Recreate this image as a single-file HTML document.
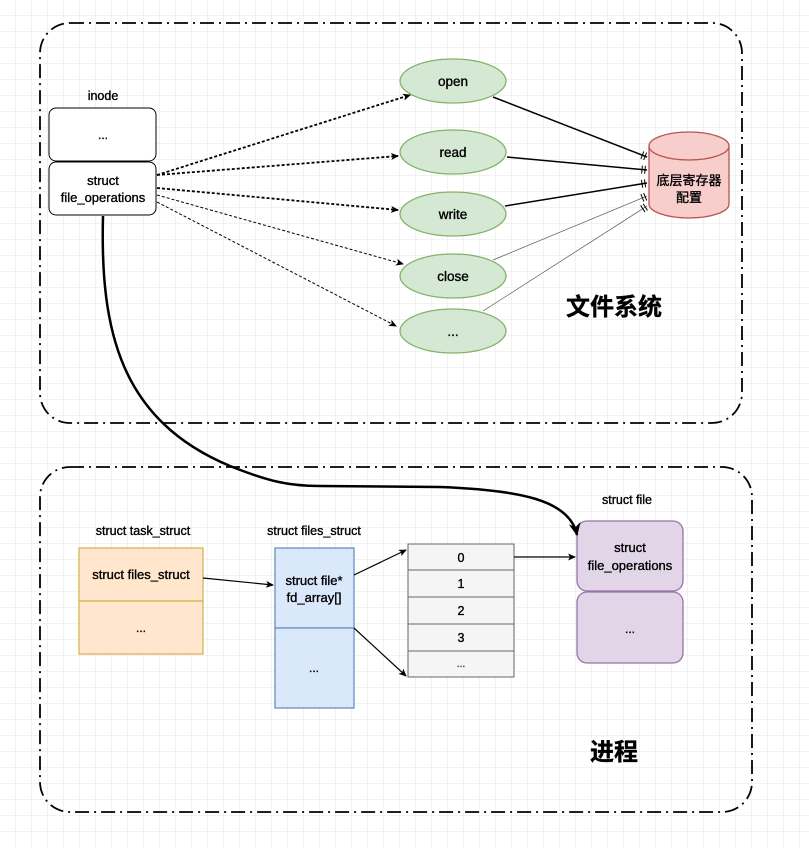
<!DOCTYPE html>
<html><head><meta charset="utf-8"><style>
html,body{margin:0;padding:0;background:#fff}
svg text{font-family:"Liberation Sans","Noto Sans CJK SC",sans-serif;stroke:#000;stroke-width:0.35}
</style></head><body>
<svg width="809" height="847" viewBox="0 0 809 847" xmlns="http://www.w3.org/2000/svg">
<defs>
<pattern id="g" width="16" height="16" patternUnits="userSpaceOnUse"><path d="M16 0V16H0" fill="none" stroke="#e4e4e4" stroke-width="1"/></pattern>
<marker id="a" markerWidth="8" markerHeight="8" refX="7" refY="4" orient="auto" markerUnits="userSpaceOnUse"><path d="M0,0.5 L8,4 L0,7.5 L2,4z" fill="#000"/></marker>
<marker id="b" markerWidth="14" markerHeight="14" refX="12" refY="7" orient="auto" markerUnits="userSpaceOnUse"><path d="M0,1 L13,7 L0,13 L4,7z" fill="#000"/></marker>
<marker id="t" markerWidth="10" markerHeight="10" refX="9" refY="5" orient="auto" markerUnits="userSpaceOnUse"><path d="M4,1V9M7,1V9" stroke="#000" stroke-width="1"/></marker>
</defs>
<rect width="809" height="847" fill="url(#g)"/>
<rect x="40" y="23" width="702" height="400" rx="30" fill="none" stroke="#000" stroke-width="1.8" stroke-dasharray="14,5,2,5"/>
<rect x="40" y="467" width="712" height="345" rx="30" fill="none" stroke="#000" stroke-width="1.8" stroke-dasharray="14,5,2,5"/>
<text x="103" y="100" font-size="12.5" text-anchor="middle">inode</text>
<rect x="49" y="108" width="107" height="53" rx="7" fill="#fff" stroke="#000"/>
<text x="103" y="139" font-size="12" text-anchor="middle">...</text>
<rect x="49" y="162" width="107" height="53" rx="7" fill="#fff" stroke="#000"/>
<text x="103" y="185" font-size="13" text-anchor="middle">struct</text>
<text x="103" y="202" font-size="13" text-anchor="middle">file_operations</text>
<g stroke="#000" fill="none">
<path d="M157,175 L410,95" stroke-width="1.8" stroke-dasharray="3,2" marker-end="url(#a)"/>
<path d="M157,175 L398,156" stroke-width="1.8" stroke-dasharray="3,2" marker-end="url(#a)"/>
<path d="M157,188 L398,210" stroke-width="1.8" stroke-dasharray="3,2" marker-end="url(#a)"/>
<path d="M157,195 L403,264" stroke-width="1" stroke-dasharray="3,2" marker-end="url(#a)"/>
<path d="M157,202 L396,326" stroke-width="1" stroke-dasharray="3,2" marker-end="url(#a)"/>
<path d="M493,97 L647,157" stroke-width="1.5" marker-end="url(#t)"/>
<path d="M507,157 L647,170" stroke-width="1.5" marker-end="url(#t)"/>
<path d="M505,206 L647,183" stroke-width="1.5" marker-end="url(#t)"/>
<path d="M493,260 L647,196" stroke-width="0.7" stroke="#555" marker-end="url(#t)"/>
<path d="M483,311 L647,206" stroke-width="0.7" stroke="#555" marker-end="url(#t)"/>
</g>
<g fill="#d5e8d4" stroke="#82b366" stroke-width="1.3">
<ellipse cx="453" cy="81" rx="53" ry="22"/>
<ellipse cx="453" cy="152" rx="53" ry="22"/>
<ellipse cx="453" cy="214" rx="53" ry="22"/>
<ellipse cx="453" cy="276" rx="53" ry="22"/>
<ellipse cx="453" cy="331" rx="53" ry="22"/>
</g>
<g font-size="13.5" text-anchor="middle">
<text x="453" y="86">open</text><text x="453" y="157">read</text><text x="453" y="219">write</text><text x="453" y="281">close</text><text x="453" y="336">...</text>
</g>
<path d="M649,146 V204 A40,14 0 0 0 729,204 V146" fill="#f8cecc" stroke="#b85450" stroke-width="1.3"/>
<ellipse cx="689" cy="146" rx="40" ry="14" fill="#f8cecc" stroke="#b85450" stroke-width="1.3"/>
<text x="689" y="185" font-size="13" text-anchor="middle">底层寄存器</text>
<text x="689" y="202" font-size="13" text-anchor="middle">配置</text>
<text x="614" y="315" font-size="24" font-weight="bold" text-anchor="middle">文件系统</text>
<text x="143" y="535" font-size="12.5" text-anchor="middle">struct task_struct</text>
<rect x="79" y="548" width="124" height="53" fill="#ffe6cc" stroke="#d6b656" stroke-width="1.3"/>
<rect x="79" y="601" width="124" height="53" fill="#ffe6cc" stroke="#d6b656" stroke-width="1.3"/>
<text x="141" y="579" font-size="13" text-anchor="middle">struct files_struct</text>
<text x="141" y="632" font-size="12" text-anchor="middle">...</text>
<text x="314" y="535" font-size="12.5" text-anchor="middle">struct files_struct</text>
<rect x="275" y="548" width="79" height="80" fill="#dae8fc" stroke="#6c8ebf" stroke-width="1.3"/>
<rect x="275" y="628" width="79" height="80" fill="#dae8fc" stroke="#6c8ebf" stroke-width="1.3"/>
<text x="314" y="585" font-size="13" text-anchor="middle">struct file*</text>
<text x="314" y="602" font-size="13" text-anchor="middle">fd_array[]</text>
<text x="314" y="672" font-size="12" text-anchor="middle">...</text>
<g fill="#f5f5f5" stroke="#666">
<rect x="408" y="544" width="106" height="26"/><rect x="408" y="570" width="106" height="27"/>
<rect x="408" y="597" width="106" height="27"/><rect x="408" y="624" width="106" height="27"/>
<rect x="408" y="651" width="106" height="26"/>
</g>
<g font-size="12.5" text-anchor="middle">
<text x="461" y="562">0</text><text x="461" y="588">1</text><text x="461" y="615">2</text><text x="461" y="642">3</text>
<text x="461" y="667" fill="#aaa" stroke="none" font-size="10">...</text>
</g>
<text x="627" y="504" font-size="12.5" text-anchor="middle">struct file</text>
<rect x="577" y="521" width="106" height="70" rx="10" fill="#e1d5e7" stroke="#9673a6" stroke-width="1.3"/>
<rect x="577" y="592" width="106" height="71" rx="10" fill="#e1d5e7" stroke="#9673a6" stroke-width="1.3"/>
<text x="630" y="552" font-size="13" text-anchor="middle">struct</text>
<text x="630" y="570" font-size="13" text-anchor="middle">file_operations</text>
<text x="630" y="633" font-size="12" text-anchor="middle">...</text>
<g stroke="#000" fill="none">
<path d="M203,578 L273,585" stroke-width="1.2" marker-end="url(#a)"/>
<path d="M354,575 L406,550" stroke-width="1.2" marker-end="url(#a)"/>
<path d="M354,628 L406,676" stroke-width="1.2" marker-end="url(#a)"/>
<path d="M514,557 L575,557" stroke-width="1.2" marker-end="url(#a)"/>
<path d="M103,216 C100,330 120,420 230,466 C270,482 290,486 320,486 L440,487 C520,490 570,500 577,535" stroke-width="2.5" marker-end="url(#b)"/>
</g>
<text x="614" y="760" font-size="24" font-weight="bold" text-anchor="middle">进程</text>
</svg>
</body></html>
